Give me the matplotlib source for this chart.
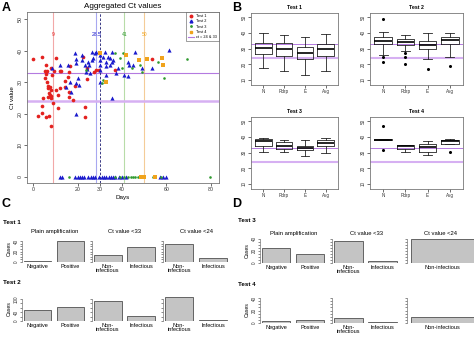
import numpy as np
import matplotlib.pyplot as plt
from matplotlib.lines import Line2D

plt.rcParams['font.family'] = ['Liberation Sans', 'DejaVu Sans']

W, H = 474, 338

# --- scatter data: Ct value by day since symptom onset ---
days_t1 = [0, 4.2, 5.9, 5.4, 6.5, 6.0, 5.6, 8.3, 9.3, 10.2, 12.0, 12.5, 8.7, 6.3, 6.8, 7.5, 6.8, 8.0,
           7.2, 7.5, 8.3, 6.8, 8.0, 4.5, 4.2, 4.2, 2.3, 6.0, 7.2, 8.0, 9.0, 11.3, 10.5, 12.3, 11.3,
           14.3, 14.3, 16.2, 16.2, 16.5, 16.2, 18.0, 15.8, 18.8, 23.3, 23.3, 24.3, 24.3, 22.5, 27.5,
           28.5, 29.6, 36.8, 53.3]
ct_t1 = [37.4, 37.9, 35.5, 33.7, 33.7, 32.6, 31.5, 34.4, 33.7, 37.6, 33.6, 33.7, 32.3, 30.2, 28.8,
         28.4, 28.1, 27.5, 26.7, 26.0, 25.6, 25.4, 24.9, 24.9, 22.5, 20.1, 19.4, 18.9, 19.3, 16.1,
         23.5, 21.7, 27.5, 28.1, 26.0, 30.4, 28.4, 27.0, 25.2, 35.0, 33.4, 24.2, 31.8, 28.9, 22.0,
         19.1, 31.0, 34.4, 38.1, 33.4, 33.9, 33.9, 33.9, 37.3]

days_t2 = [8.7, 12.0, 15.8, 18.8, 19.5, 19.2, 22.2, 21.8, 23.3, 24.3, 23.7, 26.3, 27.8, 28.2, 27.0,
           26.3, 25.2, 24.8, 25.5, 20.3, 19.5, 20.7, 16.5, 15.0, 17.3, 19.2, 30.0, 30.0, 30.3, 30.0,
           30.3, 31.5, 32.3, 33.0, 33.8, 34.5, 35.3, 35.7, 36.0, 34.5, 32.7, 33.0, 35.3, 37.5, 38.3,
           40.8, 42.8, 43.2, 45.0, 45.8, 48.8, 42.8, 53.3, 61.3]
ct_t2 = [34.4, 35.5, 35.5, 39.2, 37.3, 36.0, 38.7, 37.1, 35.5, 34.1, 33.4, 39.7, 39.2, 39.7, 37.6,
         37.1, 35.5, 36.5, 32.8, 31.2, 29.7, 29.1, 30.2, 28.6, 27.0, 19.9, 38.7, 37.1, 35.5, 33.9,
         30.2, 38.1, 39.7, 36.5, 38.1, 37.6, 39.7, 36.5, 37.1, 35.5, 32.3, 35.0, 25.1, 32.8, 34.4,
         32.3, 36.5, 35.5, 35.5, 39.7, 34.4, 32.0, 34.4, 40.3]

days_t3 = [36.8, 39.0, 40.5, 44.3, 48.0, 48.8, 56.3, 69.1, 59.0, 31.5, 30.8, 23.7, 39.8]
ct_t3 = [39.4, 37.6, 39.2, 34.4, 35.5, 33.1, 36.5, 37.3, 31.2, 30.7, 29.7, 33.9, 34.4]

days_t4 = [30.0, 33.0, 42.0, 51.1, 57.8, 58.3, 47.5]
ct_t4 = [39.2, 30.2, 38.7, 37.3, 37.6, 35.5, 37.0]

# samples without amplification, plotted at Ct 0
neg_t2 = [12, 13, 19, 20, 21, 22, 23, 24.5, 26, 27, 28, 29.5, 31, 32, 33, 34, 35, 36, 37, 38.5,
          40, 42, 57, 58.5, 60]
neg_t3 = [16, 37, 39, 41, 42.5, 44, 45, 46, 47, 54, 57.5, 79.5]
neg_t4 = [48.5, 49.5, 50, 55]

cut_days = [9, 28.5, 41, 50]
cut_labels = ['9', '28.5', '41', '50']
ct_cutoffs = [24, 33]

# --- box plot data (whislo, q1, med, q3, whishi) per gene ---
genes = ['N', 'Rdrp', 'E', 'Avg']
box_t1 = [(17.4, 26.4, 30.2, 33.8, 39.8), (15.7, 25.3, 29.6, 33.4, 38.7),
          (13.2, 23.2, 27.0, 31.3, 37.7), (15.7, 25.3, 29.6, 33.0, 39.1)]
out_t1 = [[], [], [], []]
box_t2 = [(26.0, 32.8, 35.1, 37.7, 40.4), (28.7, 32.3, 34.0, 36.0, 38.9),
          (23.2, 29.6, 32.3, 34.9, 39.8), (24.5, 32.8, 35.5, 37.7, 40.2)]
out_t2 = [[48.9, 24.9, 21.3], [27.4, 24.9, 20.0], [17.0], [19.1]]
box_t3 = [(30.7, 34.5, 37.2, 38.6, 39.4), (30.7, 32.2, 34.5, 37.0, 38.0),
          (27.6, 31.4, 32.8, 34.3, 38.0), (29.7, 34.5, 36.3, 37.8, 39.4)]
out_t3 = [[], [], [], []]
box_t4 = [(37.9, 37.9, 38.3, 38.6, 38.6), (30.3, 32.4, 34.3, 34.9, 35.0),
          (28.7, 30.7, 33.4, 35.3, 37.4), (35.3, 35.3, 37.4, 38.0, 38.6)]
out_t4 = [[46.7, 31.4], [], [], [30.1]]

# --- case counts ---
plain_cats = ['Negative', 'Positive']
inf_cats = ['Non-\ninfectious', 'Infectious']
plain_t1, ct33_t1, ct24_t1 = [1, 41], [13, 29], [34, 8]
plain_t2, ct33_t2, ct24_t2 = [50, 63], [92, 21], [109, 4]
plain_t3, ct33_t3, ct24_t3 = [25, 15], [36, 4], [40]
plain_t4, ct33_t4, ct24_t4 = [4, 5], [8, 1], [9]

RED, BLUE, GREEN, ORANGE = '#e3211f', '#1a1acc', '#2f9a2f', '#f0a31c'
PURPLE, PURPLE_L = '#b47ae0', '#d6b0f2'
EDGE = '#777777'


def rect(l, t, r, b):
    return [l / W, 1 - b / H, (r - l) / W, (b - t) / H]


def style_spines(ax, color=EDGE):
    for s in ax.spines.values():
        s.set_color(color)
        s.set_linewidth(0.6)
    ax.tick_params(colors='#333333', width=0.5, length=2, pad=1)


fig = plt.figure(figsize=(W / 100, H / 100), dpi=100)

# ---------------- A ----------------
ax = fig.add_axes(rect(27, 12, 219, 183))
style_spines(ax)
vcols = ['#f2a8a8', '#a8a8f0', '#b8dca8', '#f4cc98']
for d, lab, c, tc in zip(cut_days, cut_labels, vcols, [RED, BLUE, GREEN, ORANGE]):
    ax.axvline(d, color=c, lw=0.8, zorder=1)
    ax.text(d, 45.3, lab, color=tc, fontsize=3.6, ha='center', va='center')
ax.axvline(30, color='#1a1a70', lw=0.6, ls=(0, (3, 2)), zorder=2)
ax.axhline(ct_cutoffs[1], color=PURPLE, lw=0.8, zorder=1)
ax.axhline(ct_cutoffs[0], color=PURPLE_L, lw=1.8, zorder=1)

ax.scatter(days_t1, ct_t1, s=7, c=RED, marker='o', lw=0, zorder=3)
ax.scatter(days_t2, ct_t2, s=9, c=BLUE, marker='^', lw=0, zorder=3)
ax.scatter(days_t3, ct_t3, s=3.5, c=GREEN, marker='o', lw=0, zorder=3)
ax.scatter(days_t4, ct_t4, s=7, c=ORANGE, marker='s', lw=0, zorder=3)
ax.scatter(neg_t2, np.zeros(len(neg_t2)), s=9, c=BLUE, marker='^', lw=0, zorder=3)
ax.scatter(neg_t3, np.zeros(len(neg_t3)), s=3.5, c=GREEN, marker='o', lw=0, zorder=3)
ax.scatter(neg_t4, np.zeros(len(neg_t4)), s=7, c=ORANGE, marker='s', lw=0, zorder=3)

ax.set_xlim(-2.7, 83.6)
ax.set_ylim(-2.0, 52.3)
ax.set_xticks([0, 20, 30, 40, 60, 80])
ax.set_yticks([0, 10, 20, 30, 40, 50])
ax.tick_params(labelsize=3.8)
for t in ax.get_yticklabels():
    t.set_rotation(90)
    t.set_va('center')
ax.set_xlabel('Days', fontsize=4.5, labelpad=2)
ax.set_ylabel('Ct value', fontsize=4.5, labelpad=2)
ax.set_title('Aggregated Ct values', fontsize=5.8, pad=3)

handles = [Line2D([], [], marker='o', color=RED, ls='none', ms=1.8),
           Line2D([], [], marker='^', color=BLUE, ls='none', ms=2),
           Line2D([], [], marker='o', color=GREEN, ls='none', ms=1),
           Line2D([], [], marker='s', color=ORANGE, ls='none', ms=1.8),
           Line2D([], [], color=PURPLE, lw=0.8)]
leg = ax.legend(handles, ['Test 1', 'Test 2', 'Test 3', 'Test 4', 'ct = 24 & 33'],
                loc='upper right', bbox_to_anchor=(1, 1), borderaxespad=0, fontsize=2.8,
                frameon=True, fancybox=False, handlelength=1.6, handletextpad=0.6,
                labelspacing=0.35, borderpad=0.5)
leg.get_frame().set_edgecolor('#555555')
leg.get_frame().set_linewidth(0.5)

# ---------------- B ----------------
box_sets = [(box_t1, out_t1, 'Test 1', (251, 13, 338, 85)),
            (box_t2, out_t2, 'Test 2', (370, 13, 463, 85)),
            (box_t3, out_t3, 'Test 3', (251, 117, 338, 189)),
            (box_t4, out_t4, 'Test 4', (370, 117, 463, 189))]
for boxes, outs, name, r in box_sets:
    bx = fig.add_axes(rect(*r))
    style_spines(bx)
    bx.axhline(ct_cutoffs[1], color=PURPLE, lw=0.7, zorder=1)
    bx.axhline(ct_cutoffs[0], color=PURPLE_L, lw=1.5, zorder=1)
    stats = [dict(label=g, whislo=b[0], q1=b[1], med=b[2], q3=b[3], whishi=b[4], fliers=o)
             for g, b, o in zip(genes, boxes, outs)]
    bx.bxp(stats, positions=[1, 2, 3, 4], widths=0.8, patch_artist=False,
           boxprops=dict(color='#222222', lw=0.6),
           medianprops=dict(color='black', lw=1.2),
           whiskerprops=dict(color='#222222', lw=0.6),
           capprops=dict(color='#222222', lw=0.6),
           flierprops=dict(marker='o', ms=1.2, mfc='black', mec='black'))
    bx.set_xlim(0.4, 4.6)
    bx.set_ylim(6.8, 52.7)
    bx.set_yticks([10, 20, 30, 40, 50])
    bx.tick_params(labelsize=3.3)
    for t in bx.get_yticklabels():
        t.set_rotation(90)
        t.set_va('center')
    bx.set_title(name, fontsize=3.8, fontweight='bold', pad=3)

# ---------------- C / D ----------------
bar_rows = [
    (0, (236, 262), 50, [0, 20, 40], 5, plain_t1, ct33_t1, ct24_t1, True),
    (0, (296, 321), 114, [0, 40, 100], 20, plain_t2, ct33_t2, ct24_t2, False),
    (1, (238, 263), 41, [0, 20, 40], 5, plain_t3, ct33_t3, ct24_t3, True),
    (1, (297, 323), 41.6, [0, 20, 40], 5, plain_t4, ct33_t4, ct24_t4, False),
]
col_px = [[(22, 87), (92, 158), (163, 230)],
          [(260, 327), (332, 400), (407, 474)]]
titles = ['Plain amplification', 'Ct value <33', 'Ct value <24']

for panel, (top, bot), ymax, labs, step, plain, c33, c24, show_title in bar_rows:
    for j, (vals, cats) in enumerate([(plain, plain_cats), (c33, inf_cats), (c24, inf_cats)]):
        l, r = col_px[panel][j]
        bax = fig.add_axes(rect(l, top, r, bot))
        xs = [0.7, 1.9][:len(vals)]
        bax.bar(xs, vals, width=1.0, color='#c4c4c4', edgecolor='#505050', lw=0.6)
        bax.set_xlim(0.13, 2.5 if len(vals) > 1 else 1.2)
        bax.set_ylim(0, ymax)
        for s in ['top', 'right', 'bottom']:
            bax.spines[s].set_visible(False)
        bax.spines['left'].set_color(EDGE)
        bax.spines['left'].set_linewidth(0.5)
        bax.spines['left'].set_bounds(0, labs[-1])
        ticks = np.arange(0, labs[-1] + 0.1, step)
        bax.set_yticks(ticks)
        bax.tick_params(axis='y', width=0.4, length=1.5, colors='#333333', pad=1, labelsize=3.3)
        if j == 0:
            bax.set_yticklabels([str(int(t)) if t in labs else '' for t in ticks])
            for t in bax.get_yticklabels():
                t.set_rotation(90)
                t.set_va('center')
            bax.set_ylabel('Cases', fontsize=3.8, labelpad=1)
        else:
            bax.set_yticklabels([])
        bax.set_xticks(xs)
        bax.set_xticklabels(cats[:len(vals)] if len(vals) > 1 else ['Non-infectious'],
                            fontsize=4.0, linespacing=0.85)
        bax.tick_params(axis='x', length=0, pad=1.5)
        if show_title:
            bax.set_title(titles[j], fontsize=4.2, pad=2)

fig.text(3 / W, 1 - 223 / H, 'Test 1', fontsize=4.5, fontweight='bold', va='center')
fig.text(3 / W, 1 - 282 / H, 'Test 2', fontsize=4.5, fontweight='bold', va='center')
fig.text(238 / W, 1 - 220 / H, 'Test 3', fontsize=4.5, fontweight='bold', va='center')
fig.text(238 / W, 1 - 285 / H, 'Test 4', fontsize=4.5, fontweight='bold', va='center')

for letter, x, y in [('A', 2, 8), ('B', 232, 8), ('C', 2, 204), ('D', 232, 204)]:
    fig.text(x / W, 1 - y / H, letter, fontsize=9, fontweight='bold', va='center')

fig.savefig('out.png', dpi=100)
